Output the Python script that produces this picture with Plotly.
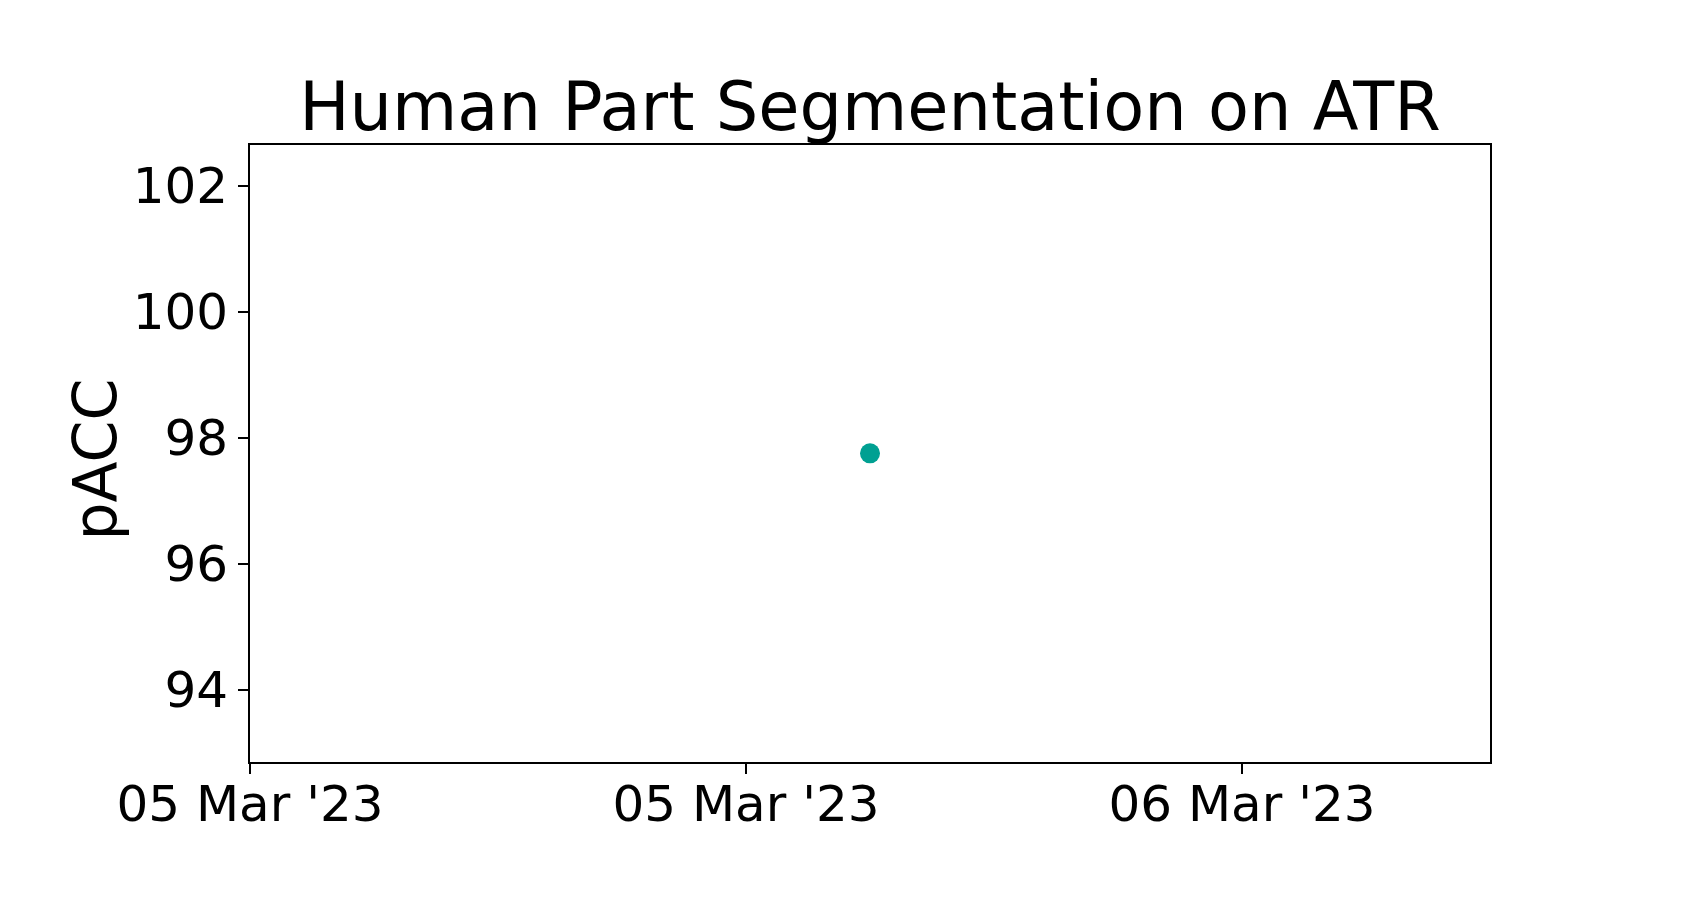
import plotly.graph_objects as go

# Data
dates = ["2023-03-05 15:00"]
pacc = [97.75]

# Axes
x_tick_vals = ["2023-03-05 00:00", "2023-03-05 12:00", "2023-03-06 00:00"]
x_tick_text = ["05 Mar '23", "05 Mar '23", "06 Mar '23"]
x_range = ["2023-03-05 00:00", "2023-03-06 06:00"]
y_tick_vals = [94, 96, 98, 100, 102]
y_range = [92.85, 102.646]

title_text = "Human Part Segmentation on ATR"
y_label = "pACC"

FONT = "DejaVu Sans"
OFF = 8  # page body margin offset

fig = go.Figure()
fig.add_trace(go.Scatter(
    x=dates, y=pacc, mode="markers",
    marker=dict(color="rgb(0,160,146)", size=20, line=dict(width=0)),
    showlegend=False,
))

fig.update_layout(
    width=1700, height=900,
    paper_bgcolor="white", plot_bgcolor="white",
    margin=dict(l=249.5 - OFF, r=210.3 + OFF, t=145 - OFF, b=138 + OFF),
    font=dict(family=FONT, color="black"),
    title=dict(text=title_text, font=dict(family=FONT, size=67, color="black"),
               x=0.5, xref="paper", xanchor="center",
               y=1 - 121.5/900, yref="container", yanchor="bottom"),
)

fig.add_annotation(
    text=y_label, textangle=-90, showarrow=False,
    xref="paper", x=0, xanchor="right", xshift=-119,
    yref="paper", y=0.5, yanchor="middle", yshift=-6,
    font=dict(family=FONT, size=60, color="black"),
)

fig.update_xaxes(
    type="date", range=x_range,
    tickmode="array", tickvals=x_tick_vals, ticktext=x_tick_text,
    showline=True, linecolor="black", linewidth=1.8, mirror=True,
    ticks="outside", ticklen=10, tickwidth=1.8, tickcolor="black",
    tickfont=dict(family=FONT, size=50, color="black"),
    ticklabelstandoff=-13,
    showgrid=False, zeroline=False,
)
fig.update_yaxes(
    range=y_range,
    tickmode="array", tickvals=y_tick_vals,
    showline=True, linecolor="black", linewidth=1.8, mirror=True,
    ticks="outside", ticklen=10, tickwidth=1.8, tickcolor="black",
    tickfont=dict(family=FONT, size=50, color="black"),
    showgrid=False, zeroline=False,
)

fig.write_html("out.html")
